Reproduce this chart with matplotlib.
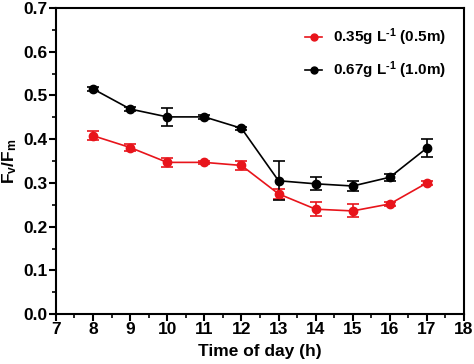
import numpy as np
import matplotlib
matplotlib.use("Agg")
import matplotlib.pyplot as plt
from matplotlib.ticker import MultipleLocator, FormatStrFormatter
from matplotlib.lines import Line2D

plt.rcParams["font.family"] = ["Liberation Sans", "DejaVu Sans"]
plt.rcParams["font.weight"] = "bold"
plt.rcParams["mathtext.fontset"] = "custom"
plt.rcParams["mathtext.rm"] = "Liberation Sans:bold"
plt.rcParams["mathtext.bf"] = "Liberation Sans:bold"
plt.rcParams["mathtext.it"] = "Liberation Sans:bold"

# --- data ---
hours = [8, 9, 10, 11, 12, 13, 14, 15, 16, 17]

low_mean = [0.408, 0.381, 0.347, 0.347, 0.340, 0.275, 0.240, 0.236, 0.252, 0.300]
low_err = [0.010, 0.009, 0.010, 0.004, 0.010, 0.012, 0.016, 0.015, 0.004, 0.004]

high_mean = [0.515, 0.469, 0.451, 0.451, 0.425, 0.305, 0.298, 0.293, 0.313, 0.380]
high_err = [0.004, 0.004, 0.020, 0.004, 0.004, 0.045, 0.015, 0.012, 0.008, 0.020]

labels = [r"0.35g L$^{\text{-1}}$ (0.5m)", r"0.67g L$^{\text{-1}}$ (1.0m)"]
colors = ["#e8141b", "black"]

fig = plt.figure(figsize=(4.74, 3.64), dpi=100)
ax = fig.add_axes([0.118, 0.137, 0.861, 0.841])

for mean, err, c in [(low_mean, low_err, colors[0]), (high_mean, high_err, colors[1])]:
    ax.errorbar(hours, mean, yerr=err, color=c, marker="o", ms=6,
                lw=1.2, capsize=4, elinewidth=1.2, capthick=1.2, zorder=3)

ax.set_xlim(7, 18)
ax.set_ylim(0, 0.7)
ax.xaxis.set_major_locator(MultipleLocator(1))
ax.xaxis.set_minor_locator(MultipleLocator(0.5))
ax.yaxis.set_major_locator(MultipleLocator(0.1))
ax.yaxis.set_minor_locator(MultipleLocator(0.05))
ax.yaxis.set_major_formatter(FormatStrFormatter("%.1f"))

for s in ax.spines.values():
    s.set_linewidth(1.5)
ax.tick_params(which="major", direction="out", length=5, width=1.5, labelsize=12.5, pad=1)
ax.tick_params(which="minor", direction="out", length=3, width=1.2)

ax.set_xlabel("Time of day (h)", fontsize=12.5, fontweight="bold", labelpad=5)
ax.set_ylabel(r"F$_{\mathbf{v}}$/F$_{\mathbf{m}}$", fontsize=12.5, fontweight="bold", labelpad=3)

# legend shows line + marker only (no error bars)
handles = [Line2D([], [], color=c, marker="o", ms=5, lw=1.2) for c in colors]
ax.legend(handles, labels, loc="upper right", frameon=False, handlelength=1.1,
          handletextpad=0.7, labelspacing=0.75, borderaxespad=0.8,
          prop={"weight": "bold", "size": 11})

fig.savefig("out.png", dpi=100)
